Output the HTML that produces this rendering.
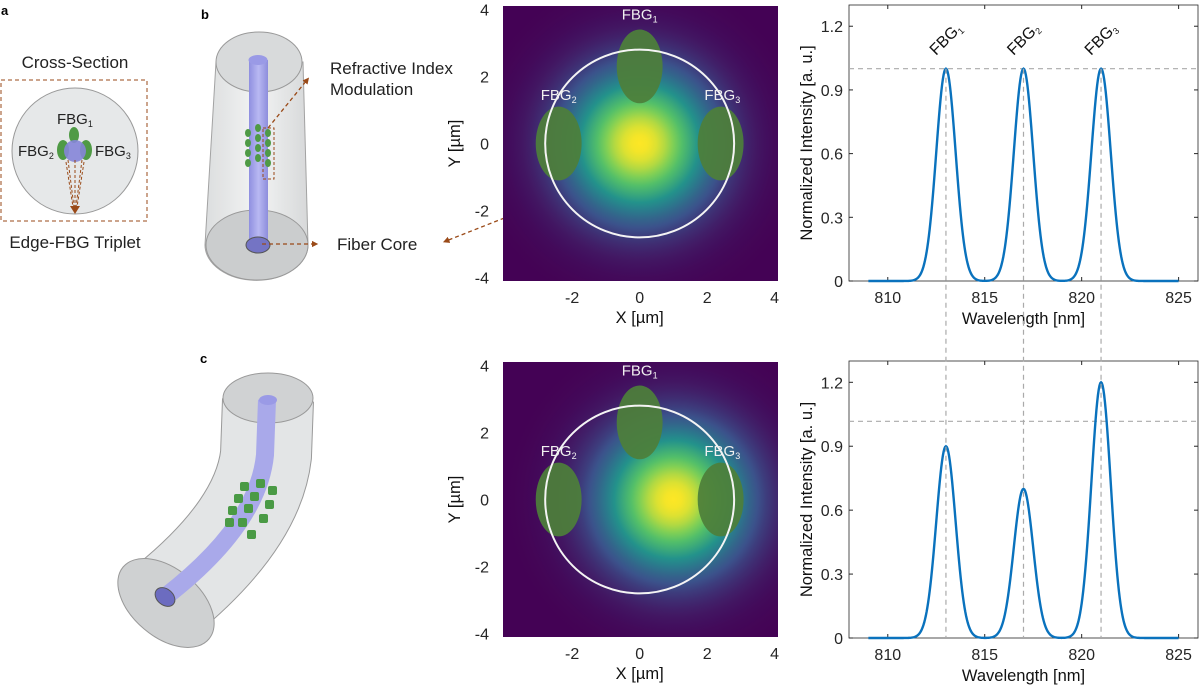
<!DOCTYPE html>
<html><head><meta charset="utf-8"><style>
body{margin:0;background:#fff;}
svg{display:block;font-family:"Liberation Sans",Arial,sans-serif;}
</style></head><body>
<svg id="fig" width="1200" height="686" viewBox="0 0 1200 686">
<defs>
<marker id="ah" viewBox="0 0 10 10" refX="5" refY="5" markerWidth="5" markerHeight="5" orient="auto"><path d="M0,0 L10,5 L0,10 z" fill="#9a4a18"/></marker>
<linearGradient id="cladG" x1="0" x2="1"><stop offset="0" stop-color="#d8dadb"/><stop offset="0.5" stop-color="#f2f3f3"/><stop offset="1" stop-color="#d3d5d6"/></linearGradient>
<linearGradient id="coreG" x1="0" x2="1"><stop offset="0" stop-color="#8f8fe0"/><stop offset="0.5" stop-color="#b8b8f2"/><stop offset="1" stop-color="#8d8ddc"/></linearGradient>
</defs>

<!-- panel a -->
<g>
<text x="1" y="15" font-size="13" font-weight="bold">a</text>
<text x="75" y="68" font-size="17" text-anchor="middle" fill="#222">Cross-Section</text>
<rect x="1" y="80" width="146" height="141" fill="none" stroke="#9a4a18" stroke-dasharray="4,3" stroke-width="1"/>
<circle cx="75" cy="151" r="63" fill="#e6e8e9" stroke="#999"/>
<ellipse cx="74" cy="135" rx="5" ry="8" fill="#4f9a45"/>
<ellipse cx="63" cy="150" rx="6" ry="10" fill="#4f9a45"/>
<ellipse cx="86" cy="150" rx="6" ry="10" fill="#4f9a45"/>
<circle cx="75" cy="151" r="11" fill="#8585d8" opacity="0.9"/>
<path d="M68,160 L74,207 M75,160 L75,207 M82,160 L76,207 M66,162 L73,207 M84,162 L77,207" stroke="#9a4a18" stroke-dasharray="3,2" stroke-width="1"/>
<path d="M70,206 L80,206 L75,214 z" fill="#9a4a18"/>
<text x="57" y="124" font-size="15" fill="#222">FBG<tspan font-size="9" dy="3">1</tspan></text>
<text x="18" y="156" font-size="15" fill="#222">FBG<tspan font-size="9" dy="3">2</tspan></text>
<text x="95" y="156" font-size="15" fill="#222">FBG<tspan font-size="9" dy="3">3</tspan></text>
<text x="75" y="248" font-size="17" text-anchor="middle" fill="#222">Edge-FBG Triplet</text>
</g>

<!-- panel b -->
<g>
<text x="201" y="19" font-size="13" font-weight="bold">b</text>
<path d="M216,62 L205,245 A51,35 0 0 0 308,245 L303,62 z" fill="url(#cladG)" stroke="#999" opacity="0.9"/>
<ellipse cx="259" cy="62" rx="43" ry="30" fill="#d8dadb" stroke="#999"/>
<ellipse cx="257" cy="245" rx="51" ry="35" fill="#cbcdce" stroke="#999"/>
<rect x="249" y="60" width="19" height="185" fill="url(#coreG)"/>
<ellipse cx="258" cy="60" rx="9.5" ry="5" fill="#9a9ae6"/>
<ellipse cx="258" cy="245" rx="12" ry="8" fill="#7474c4" stroke="#555"/>
<g fill="#4f9a45">
<ellipse cx="248" cy="133" rx="3" ry="4"/><ellipse cx="248" cy="143" rx="3" ry="4"/><ellipse cx="248" cy="153" rx="3" ry="4"/><ellipse cx="248" cy="163" rx="3" ry="4"/>
<ellipse cx="258" cy="128" rx="3" ry="4"/><ellipse cx="258" cy="138" rx="3" ry="4"/><ellipse cx="258" cy="148" rx="3" ry="4"/><ellipse cx="258" cy="158" rx="3" ry="4"/>
<ellipse cx="268" cy="133" rx="3" ry="4"/><ellipse cx="268" cy="143" rx="3" ry="4"/><ellipse cx="268" cy="153" rx="3" ry="4"/><ellipse cx="268" cy="163" rx="3" ry="4"/>
</g>
<rect x="263" y="128" width="11" height="51" fill="none" stroke="#9a4a18" stroke-dasharray="3,2"/>
<line x1="268" y1="128" x2="307" y2="80" stroke="#9a4a18" stroke-dasharray="4,3" stroke-width="1.3" marker-end="url(#ah)"/>
<line x1="262" y1="244" x2="315" y2="244" stroke="#9a4a18" stroke-dasharray="4,3" stroke-width="1.3" marker-end="url(#ah)"/>
<text x="330" y="74" font-size="17" fill="#222">Refractive Index</text>
<text x="330" y="95" font-size="17" fill="#222">Modulation</text>
<text x="337" y="250" font-size="17" fill="#222">Fiber Core</text>
<line x1="550" y1="200" x2="446" y2="241" stroke="#9a4a18" stroke-dasharray="4,3" stroke-width="1.3" marker-end="url(#ah)"/>
</g>

<!-- panel c -->
<g>
<text x="200" y="363" font-size="13" font-weight="bold">c</text>
<path d="M268,400 L266,455 Q258,525 166,600" fill="none" stroke="#999" stroke-width="92"/>
<path d="M268,400 L266,455 Q258,525 166,600" fill="none" stroke="#e3e5e6" stroke-width="90"/>
<ellipse cx="268" cy="398" rx="45" ry="25" fill="#d0d2d3" stroke="#999"/>
<ellipse cx="166" cy="603" rx="34" ry="56" transform="rotate(-50 166 603)" fill="#cfd1d2" stroke="#999"/>
<path d="M267,400 L265,455 Q258,525 165,597" fill="none" stroke="#a9a9ea" stroke-width="18"/>
<ellipse cx="268" cy="400" rx="9" ry="5" fill="#9a9ae6"/>
<ellipse cx="165" cy="597" rx="8" ry="11" transform="rotate(-50 165 597)" fill="#6c6cc0" stroke="#555"/>
<g fill="#4a9a45">
<rect x="240" y="482" width="9" height="9" rx="2"/><rect x="256" y="479" width="9" height="9" rx="2"/><rect x="268" y="486" width="9" height="9" rx="2"/>
<rect x="234" y="494" width="9" height="9" rx="2"/><rect x="250" y="492" width="9" height="9" rx="2"/><rect x="265" y="500" width="9" height="9" rx="2"/>
<rect x="228" y="506" width="9" height="9" rx="2"/><rect x="244" y="504" width="9" height="9" rx="2"/><rect x="259" y="514" width="9" height="9" rx="2"/>
<rect x="225" y="518" width="9" height="9" rx="2"/><rect x="238" y="518" width="9" height="9" rx="2"/><rect x="247" y="530" width="9" height="9" rx="2"/>
</g>
</g>

<g id="maps"></g>
<g id="spec"></g>
</svg>
<script>
// ---- spectrum data ----
const peakCenters = [813, 817, 821];
const peakAmpsTop = [1.0, 1.0, 1.0];
const peakAmpsBottom = [0.9, 0.7, 1.2];
const peakSigma = [0.5, 0.5, 0.5];
const xTicks = [810, 815, 820, 825];
const yTicks = [0, 0.3, 0.6, 0.9, 1.2];
const yTickLabels = ['0', '0.3', '0.6', '0.9', '1.2'];
const refLevelTop = 1.0;
const refLevelBottom = 1.017;
// ---- mode map data ----
const mapTicks = [-2, 0, 2, 4];
const mapYTicks = [-4, -2, 0, 2, 4];
const modeCenterTop = [0, 0];
const modeCenterBottom = [1.0, 0];
const fbgPositions = [[0, 2.3], [-2.4, 0], [2.4, 0]];
const coreRadius = 2.8;

const NS = 'http://www.w3.org/2000/svg';
function mk(tag, attrs, parent) { const e = document.createElementNS(NS, tag); for (const k in attrs) e.setAttribute(k, attrs[k]); if (parent) parent.appendChild(e); return e; }

const spec = document.getElementById('spec');
const L = 849, R = 1198, xmin = 808, xmax = 826, ymax = 1.3;
function drawSpec(top, bottom, amps, ref, name, showLabels) {
  const g = mk('g', {}, spec);
  
  
  const X = v => L + (v - xmin) / (xmax - xmin) * (R - L);
  const Y = v => bottom - v / ymax * (bottom - top);
  mk('rect', { x: L, y: top, width: R - L, height: bottom - top, fill: '#fff', stroke: '#262626', 'stroke-width': 0.8 }, g);
  xTicks.forEach(t => {
    mk('line', { x1: X(t), x2: X(t), y1: bottom, y2: bottom - 4, stroke: '#262626' }, g);
    mk('line', { x1: X(t), x2: X(t), y1: top, y2: top + 4, stroke: '#262626' }, g);
    const tx = mk('text', { x: X(t), y: bottom + 22, 'font-size': 16, 'text-anchor': 'middle', fill: '#262626' }, g); tx.textContent = t;
  });
  yTicks.forEach((t, i) => {
    mk('line', { x1: L, x2: L + 4, y1: Y(t), y2: Y(t), stroke: '#262626' }, g);
    mk('line', { x1: R, x2: R - 4, y1: Y(t), y2: Y(t), stroke: '#262626' }, g);
    const tx = mk('text', { x: L - 6, y: Y(t) + 6, 'font-size': 16, 'text-anchor': 'end', fill: '#262626' }, g); tx.textContent = yTickLabels[i];
  });
  const yl = mk('text', { x: 0, y: 0, 'font-size': 16.5, 'text-anchor': 'middle', fill: '#111', transform: `translate(812,${(top + bottom) / 2}) rotate(-90)` }, g);
  yl.textContent = 'Normalized Intensity [a. u.]';
  
  
  const xl = mk('text', { x: (L + R) / 2, y: bottom + 43, 'font-size': 16.5, 'text-anchor': 'middle', fill: '#111' }, g);
  xl.textContent = 'Wavelength [nm]';
  
  
  const rl = mk('line', { x1: L, x2: R, y1: Y(ref), y2: Y(ref), stroke: '#aaa', 'stroke-dasharray': '5,4', 'stroke-width': 1.2 }, g);
  
  
  let d = '';
  for (let i = 0; i <= 400; i++) {
    const w = 809 + 16 * i / 400;
    let v = 0;
    peakCenters.forEach((c, k) => { v += amps[k] * Math.exp(-((w - c) ** 2) / (2 * peakSigma[k] ** 2)); });
    d += (i ? 'L' : 'M') + X(w).toFixed(2) + ',' + Y(v).toFixed(2);
  }
  const p = mk('path', { d, fill: 'none', stroke: '#0a72bd', 'stroke-width': 2.4 }, g);
  
  
  if (showLabels) {
    peakCenters.forEach((c, k) => {
      const t = mk('text', { x: 0, y: 0, 'font-size': 16, fill: '#111', transform: `translate(${X(c) - 10},${Y(1.06)}) rotate(-45)` }, g);
      t.innerHTML = 'FBG<tspan font-size="9" dy="3">' + (k + 1) + '</tspan>';
      
      
    });
  }
  return { X, Y };
}
const sTop = drawSpec(5, 281, peakAmpsTop, refLevelTop, 'spectrum-chart-straight', true);
const sBot = drawSpec(361, 638, peakAmpsBottom, refLevelBottom, 'spectrum-chart-bent', false);
peakCenters.forEach(c => {
  const vl = mk('line', { x1: sTop.X(c), x2: sTop.X(c), y1: sTop.Y(1.0), y2: 638, stroke: '#aaa', 'stroke-dasharray': '5,4', 'stroke-width': 1.2 }, spec);
  
  
});

const maps = document.getElementById('maps');
const vir = [[0, [253, 231, 37]], [0.25, [94, 201, 98]], [0.5, [33, 145, 140]], [0.75, [59, 82, 139]], [1, [68, 1, 84]]];
function viridis(t) {
  for (let i = 1; i < vir.length; i++) if (t <= vir[i][0]) {
    const a = vir[i - 1], b = vir[i], f = (t - a[0]) / (b[0] - a[0]);
    return 'rgb(' + a[1].map((v, k) => Math.round(v + (b[1][k] - v) * f)).join(',') + ')';
  }
  return 'rgb(68,1,84)';
}
let gid = 0;
function drawMap(top, bottom, center, name) {
  const left = 503, right = 778;
  const xmn = -4.05, xmx = 4.1, ymn = -4.1, ymx = 4.1;
  const X = v => left + (v - xmn) / (xmx - xmn) * (right - left);
  const Y = v => bottom - (v - ymn) / (ymx - ymn) * (bottom - top);
  const g = mk('g', {}, maps);
  
  
  const id = 'rg' + (gid++);
  const defs = mk('defs', {}, g);
  const Rmax = 5;
  const rg = mk('radialGradient', { id, gradientUnits: 'userSpaceOnUse', cx: X(center[0]), cy: Y(center[1]), r: Rmax * (right - left) / (xmx - xmn) }, defs);
  for (let i = 0; i <= 20; i++) {
    const r = Rmax * i / 20;
    const I = Math.exp(-r * r / (2 * 1.5 * 1.5));
    mk('stop', { offset: i / 20, 'stop-color': viridis(1 - I) }, rg);
  }
  const hm = mk('rect', { x: left, y: top, width: right - left, height: bottom - top, fill: `url(#${id})` }, g);
  
  
  const sx = (right - left) / (xmx - xmn), sy = (bottom - top) / (ymx - ymn);
  fbgPositions.forEach(p => {
    const e = mk('ellipse', { cx: X(p[0]), cy: Y(p[1]), rx: 0.68 * sx, ry: 1.1 * sy, fill: '#4e7f3a', opacity: 0.93 }, g);
    
    
  });
  const c = mk('ellipse', { cx: X(0), cy: Y(0), rx: coreRadius * sx, ry: coreRadius * sy, fill: 'none', stroke: '#f4f4f4', 'stroke-width': 2 }, g);
  
  
  const labs = [[X(0), Y(3.7), 1], [X(-2.4), Y(1.3), 2], [X(2.45), Y(1.3), 3]];
  labs.forEach(l => {
    const t = mk('text', { x: l[0], y: l[1], 'font-size': 15, 'text-anchor': 'middle', fill: '#f0f0f0' }, g);
    t.innerHTML = 'FBG<tspan font-size="9" dy="3">' + l[2] + '</tspan>';
    
    
  });
  mapTicks.forEach(t => { const tx = mk('text', { x: X(t), y: bottom + 22, 'font-size': 16, 'text-anchor': 'middle', fill: '#262626' }, g); tx.textContent = t; });
  mapYTicks.forEach(t => { const tx = mk('text', { x: left - 14, y: Y(t) + 6, 'font-size': 16, 'text-anchor': 'end', fill: '#262626' }, g); tx.textContent = t; });
  const xl = mk('text', { x: X(0), y: bottom + 42, 'font-size': 16.5, 'text-anchor': 'middle', fill: '#111' }, g);
  xl.textContent = 'X [µm]';
  
  
  const yl = mk('text', { x: 0, y: 0, 'font-size': 16.5, 'text-anchor': 'middle', fill: '#111', transform: `translate(460,${Y(0)}) rotate(-90)` }, g);
  yl.textContent = 'Y [µm]';
  
  
}
drawMap(6, 281, modeCenterTop, 'mode-map-straight');
drawMap(362, 637, modeCenterBottom, 'mode-map-bent');
</script>
</body></html>
